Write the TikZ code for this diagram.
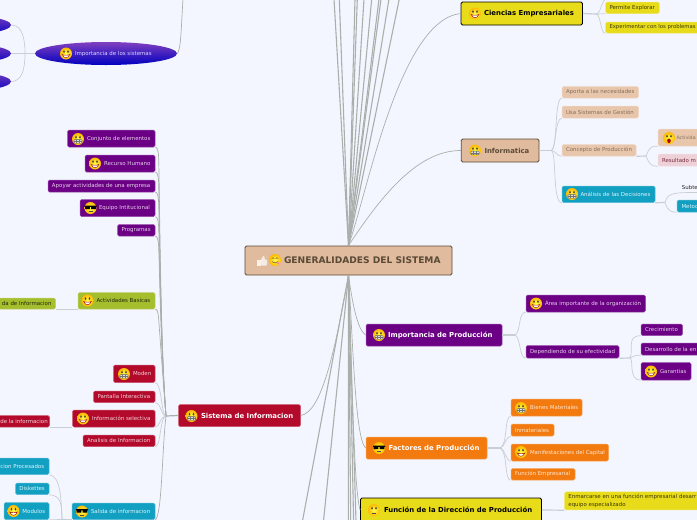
\documentclass[tikz,border=0pt]{standalone}
\usepackage{fontspec}
\setmainfont{DejaVu Sans}
\usetikzlibrary{shapes.geometric}
\definecolor{bgc}{HTML}{F3F6FF}
\definecolor{trunkc}{HTML}{ABAFAB}
\definecolor{linkc}{HTML}{C9CDD4}
\definecolor{purp}{HTML}{6C0085}
\definecolor{redd}{HTML}{B30A2C}
\definecolor{teal2}{HTML}{12A0C2}
\definecolor{oliv}{HTML}{A5BE2E}
\definecolor{oran}{HTML}{F27A0E}
\definecolor{yell}{HTML}{E8DC1A}
\definecolor{tan1}{HTML}{E0BB9E}
\definecolor{tan2}{HTML}{E8C6AC}
\definecolor{rose}{HTML}{EED0D8}
\definecolor{brownt}{HTML}{5A4A36}
\tikzset{
  x=1pt,y=-1pt,
  base/.style={rectangle,rounded corners=1.5pt,line width=.5pt},
  small/.style={font=\fontsize{5.45}{6.5}\selectfont},
  big/.style={font=\fontsize{6.9}{9}\selectfont\bfseries},
  pu/.style={base,small,fill=purp,draw=purp!70!white,text=purp!18!white},
  re/.style={base,small,fill=redd,draw=redd!70!white,text=redd!18!white},
  te/.style={base,small,fill=teal2,draw=teal2!70!white,text=white!88!teal2},
  ol/.style={base,small,fill=oliv,draw=oliv!70!white,text=black!80!oliv},
  orr/.style={base,small,fill=oran,draw=oran!70!white,text=oran!18!white},
  ye/.style={base,small,fill=yell,draw=yell!70!white,text=black!75!yell},
  ta/.style={base,small,fill=tan2,draw=tan2!70!white,text=brownt!70!tan2},
  ro/.style={base,small,fill=rose,draw=rose!70!white,text=redd!50!black!80!rose},
  puB/.style={base,big,fill=purp,draw=purp!70!white,text=white},
  reB/.style={base,big,fill=redd,draw=redd!70!white,text=white},
  orB/.style={base,big,fill=oran,draw=oran!70!white,text=white},
  yeB/.style={base,big,fill=yell,draw=black,line width=.8pt,text=black},
  taB/.style={base,big,fill=tan1,draw=brownt,line width=.8pt,text=brownt},
  blu/.style={ellipse,small,top color=blue!55!purple!75!white,bottom color=blue!75!black,draw=none,text=white!85!blue},
  plain/.style={small,text=black!85!white},
  trk/.style={draw=trunkc,line width=1.1pt},
  trl/.style={draw=trunkc,line width=.7pt},
  lnk/.style={draw=linkc,line width=.7pt},
  lnb/.style={draw=linkc,line width=1.2pt},
}
\newcommand\bx[8]{%
  \pgfmathsetmacro\bw{#5-(#3)}\pgfmathsetmacro\bh{#6-#4}%
  \pgfmathsetmacro\cxx{((#3)+#5)/2}\pgfmathsetmacro\cyy{(#4+#6)/2}%
  \pgfmathsetmacro\off{#7-(#3)}%
  \node[#2,minimum width=\bw pt,minimum height=\bh pt,inner sep=0pt] (#1) at (\cxx,\cyy)
    {\makebox[\bw pt][l]{\hspace{\off pt}#8}};}
% an ellipse grows round its text box, so its text sits in a box of no width
\newcommand\ex[8]{%
  \pgfmathsetmacro\bw{#5-(#3)}\pgfmathsetmacro\bh{#6-#4}%
  \pgfmathsetmacro\cxx{((#3)+#5)/2}\pgfmathsetmacro\cyy{(#4+#6)/2}%
  \pgfmathsetmacro\off{#7-\cxx}%
  \node[#2,minimum width=\bw pt,minimum height=\bh pt,inner sep=0pt] (#1) at (\cxx,\cyy)
    {\makebox[0pt][l]{\hspace{\off pt}#8}};}
\newcommand\fbase[2]{\shade[inner color=yellow!70!white,outer color=orange!55!yellow] (#1,#2) circle[radius=6];}
\newcommand\feyes[2]{\fill[black!75] (#1-2,#2-1.8) ellipse[x radius=.8,y radius=1.5] (#1+2,#2-1.8) ellipse[x radius=.8,y radius=1.5];}
\newcommand\fsmile[2]{\fbase{#1}{#2}\feyes{#1}{#2}%
  \fill[white,draw=red!60!black,line width=.4pt] (#1-3.8,#2+1) .. controls (#1-2,#2+5.4) and (#1+2,#2+5.4) .. (#1+3.8,#2+1) .. controls (#1+2,#2+2) and (#1-2,#2+2) .. cycle;}
\newcommand\fgrin[2]{\fbase{#1}{#2}\feyes{#1}{#2}%
  \fill[white!75!gray,draw=black!65,line width=.4pt,rounded corners=1pt] (#1-4.2,#2+.6) rectangle (#1+4.2,#2+4.2);
  \draw[black!55,line width=.25pt] (#1-4.2,#2+2.4) -- (#1+4.2,#2+2.4) (#1-1.4,#2+.6) -- (#1-1.4,#2+4.2) (#1+1.4,#2+.6) -- (#1+1.4,#2+4.2);}
\newcommand\fcool[2]{\fbase{#1}{#2}%
  \fill[black] (#1-6,#2-2.4) rectangle (#1+6,#2-1.2) (#1-5.4,#2-2) rectangle (#1-.6,#2+1) (#1+.6,#2-2) rectangle (#1+5.4,#2+1);
  \draw[black!70,line width=.4pt] (#1-2,#2+3.4) .. controls (#1-.5,#2+4.2) and (#1+.5,#2+4.2) .. (#1+2,#2+3.4);}
\newcommand\fflat[2]{\fbase{#1}{#2}\feyes{#1}{#2}%
  \draw[black!70,line width=.6pt] (#1-2.4,#2+3.4) -- (#1+2.4,#2+3.4);}
\newcommand\fwow[2]{\fbase{#1}{#2}\feyes{#1}{#2}%
  \fill[red!70!black] (#1,#2+2.8) ellipse[x radius=1.8,y radius=2.3];}
\newcommand\ftong[2]{\fbase{#1}{#2}%
  \draw[black!70,line width=.45pt] (#1-3.2,#2-1.4) .. controls (#1-2.4,#2-2.6) and (#1-1.4,#2-2.6) .. (#1-.8,#2-1.4) (#1+.8,#2-1.4) .. controls (#1+1.4,#2-2.6) and (#1+2.4,#2-2.6) .. (#1+3.2,#2-1.4) (#1-3,#2+1.6) .. controls (#1-1,#2+3.4) and (#1+1,#2+3.4) .. (#1+3,#2+1.6);
  \fill[red!45!white] (#1+3,#2+3) circle[radius=1.7];}
\begin{document}
\begin{tikzpicture}
\useasboundingbox (0,0) rectangle (697,520);
\clip (0,0) rectangle (697,520);
\fill[bgc] (0,0) rectangle (697,520);
% centre
\bx{center}{taB,font=\fontsize{9.1}{11}\selectfont\bfseries}{245}{246}{452}{275}{284}{GENERALIDADES DEL SISTEMA}
% free ends
\foreach \i/\x in {1/334,2/339.3,3/355,4/357.3,5/364,6/371.7,7/379,8/381,9/389,10/399.3}{\coordinate (t\i) at (\x,-1);}
\foreach \i/\x in {1/302.5,2/323.5,3/348.3,4/350.7,5/353.6,6/356}{\coordinate (b\i) at (\x,521);}
\foreach \i in {1,...,10}{\draw[trk] (center.north) -- (t\i);}
\foreach \i in {1,...,6}{\draw[trk] (center.south) -- (b\i);}
% blue ellipses
\ex{imps}{blu}{35}{42}{177}{65}{75}{Importancia de los sistemas}
\ex{e1}{blu}{-131}{13.5}{11}{36.5}{-100}{}
\ex{e2}{blu}{-131}{42}{11}{65}{-100}{}
\ex{e3}{blu}{-131}{70}{11}{93}{-100}{}
\ex{e0}{ellipse,fill=black!50!yellow!60!white,draw=none}{-60}{-22}{12}{1.4}{-50}{}
\coordinate (topa) at (183,-1);
\coordinate (j0) at (24,53.5);
\draw[trl] (imps.east) .. controls (181,50) and (181,30) .. (topa);
\draw[lnb] (imps.west) -- (j0);
\draw[lnk] (e2.east) -- (j0);
\draw[lnk] (e1.east) .. controls (22,25) and (25,38) .. (25,53.5);
\draw[lnk] (e3.east) .. controls (22,81.5) and (25,69) .. (25,53.5);
% Sistema de Informacion
\bx{sis}{reB}{178.5}{404.5}{300.5}{426.5}{201}{Sistema de Informacion}
\draw[trl] (sis.east) .. controls (322,412) and (335,350) .. (center.south);
\coordinate (hub) at (166,416);
\draw[lnb,draw=trunkc] (sis.west) -- (hub);
\bx{a1}{pu}{67.5}{130}{155}{147}{87}{Conjunto de elementos}
\bx{a2}{pu}{85}{155}{155}{172}{104}{Recurso Humano}
\bx{a3}{pu}{48}{180}{155}{192}{52}{Apoyar actividades de una empresa}
\bx{a4}{pu}{80}{199.5}{155}{216.5}{99}{Equipo Intitucional}
\bx{a5}{pu}{117.5}{224.5}{155}{236}{121.5}{Programas}
\bx{a6}{ol}{78}{292.5}{155}{309}{96.5}{Actividades Basicas}
\bx{a7}{re}{113.5}{365}{155}{382.5}{133}{Moden}
\bx{a8}{re}{93.5}{391}{155}{402.5}{97.5}{Pantalla Interactiva}
\bx{a9}{re}{72.5}{410}{155}{427}{92}{Información selectiva}
\bx{a10}{re}{83}{435}{155}{446.5}{87}{Analisis de Informacion}
\bx{a11}{te}{72}{503}{155}{519.5}{91}{Salida de informacion}
\foreach \n/\c in {a1/147,a2/172,a3/192,a4/216.5,a5/236,a6/309}{
  \draw[trl] (hub) .. controls (160,340) and (159.5,\c+20) .. (158.5,\c+8) .. controls (158,\c+3) and (157,\c) .. (\n.south east);}
\draw[lnk] (hub) .. controls (161,416) and (162,382.5) .. (a7.south east);
\draw[lnk] (hub) .. controls (161,416) and (161,402.5) .. (a8.south east);
\draw[lnk] (hub) .. controls (160,416) and (160,427) .. (a9.south east);
\draw[lnk] (hub) .. controls (160,416) and (161,446.5) .. (a10.south east);
\draw[trl] (hub) .. controls (162,450) and (162,516) .. (a11.south east);
% left children
\bx{o1}{ol}{-40}{298}{55.5}{309}{2}{da de Informacion}
\draw[lnk] (a6.south west) -- (o1.south east);
\bx{r1}{re}{-40}{415.5}{49.5}{427}{0.3}{de la informacion}
\draw[lnk] (a9.south west) -- (r1.south east);
\bx{c1}{te}{-40}{458}{49}{474.5}{0.3}{cion Procesados}
\bx{c2}{te}{15.5}{483}{49}{494.5}{19.5}{Diskettes}
\bx{c3}{te}{4}{502.5}{49}{519.5}{22.5}{Modulos}
\coordinate (j1) at (62,519.5);
\draw[lnb] (a11.south west) -- (j1);
\draw[lnk] (j1) .. controls (61,500) and (61,476) .. (c1.south east);
\draw[lnk] (j1) .. controls (62,505) and (61,495) .. (c2.south east);
\draw[lnk] (j1) -- (c3.south east);
% Ciencias
\bx{cie}{yeB}{461}{2}{582.5}{25}{484}{Ciencias Empresariales}
\bx{ci1}{ye}{605.7}{2}{659.3}{13.5}{609.5}{Permite Explorar}
\bx{ci2}{ye,font=\fontsize{5.3}{6.5}\selectfont}{605.7}{22}{720}{33}{609.5}{Experimentar con los problemas}
\coordinate (jc) at (596,14);
\coordinate (topb) at (606,-1);
\draw[trl] (center.north) .. controls (368,190) and (400,20) .. (cie.west);
\draw[lnb] (cie.east) -- (jc);
\draw[lnk] (jc) .. controls (601,14) and (601,1) .. (topb);
\draw[lnk] (jc) -- (ci1.south west);
\draw[lnk] (jc) .. controls (601,14) and (600,33) .. (ci2.south west);
% Informatica
\bx{inf}{taB}{461.3}{139}{539}{162}{484.5}{Informatica}
\draw[trl] (center.north) .. controls (385,190) and (420,150.5) .. (inf.west);
\bx{in1}{ta}{562}{86.5}{638.5}{98}{566}{Aporta a las necesidades}
\bx{in2}{ta}{562}{106}{638.5}{118}{566}{Usa Sistemas de Gestión}
\bx{in3}{ta}{562}{144.5}{636}{156}{566}{Concepto de Producción}
\bx{in4}{te}{562}{186}{655}{202.5}{580.5}{Análisis de las Decisiones}
\coordinate (ji) at (551,150.5);
\draw[lnb] (inf.east) -- (ji);
\draw[lnk] (ji) .. controls (558,150.5) and (554,98) .. (in1.south west);
\draw[lnk] (ji) .. controls (556,150.5) and (555,118) .. (in2.south west);
\draw[lnk] (ji) .. controls (556,150.5) and (556,156) .. (in3.south west);
\draw[lnk] (ji) .. controls (557,150.5) and (552,202.5) .. (in4.south west);
\bx{ac}{ta,font=\fontsize{4.8}{6}\selectfont}{658}{129}{720}{146}{676.5}{Activida}
\bx{rs}{ro}{658}{154}{720}{166}{662}{Resultado m}
\coordinate (jr) at (646,156);
\draw[lnb] (in3.south east) -- (jr);
\draw[lnk] (jr) .. controls (650,146) and (652,146) .. (ac.south west);
\draw[lnk] (jr) .. controls (650,166) and (652,166) .. (rs.south west);
\node[plain,anchor=west,inner sep=0pt] (sub) at (681.7,187) {Subte};
\bx{me}{te}{677}{200}{720}{212}{681.5}{Metod}
\coordinate (js) at (665,202.5);
\coordinate (subs) at (697,192.5);
\draw[lnb] (in4.south east) -- (js);
\draw[lnk] (js) .. controls (668,193) and (672,192.5) .. (subs);
\draw[lnk] (js) .. controls (668,212) and (672,212) .. (me.south west);
% Importancia de Produccion
\bx{imp}{puB}{366}{324}{502}{346}{388}{Importancia de Producción}
\draw[trl] (center.south) .. controls (352,300) and (357,330) .. (imp.west);
\bx{p1}{pu}{526}{295}{645.5}{312}{545}{Área importante de la organización}
\bx{p2}{pu}{526}{345.5}{619}{358}{530}{Dependiendo de su efectividad}
\coordinate (jp) at (515,335);
\draw[lnb] (imp.east) -- (jp);
\draw[lnk] (jp) .. controls (521,332) and (518,312) .. (p1.south west);
\draw[lnk] (jp) .. controls (521,338) and (519,358) .. (p2.south west);
\bx{p3}{pu}{641}{324}{682.5}{335.5}{645}{Crecimiento}
\bx{p4}{pu}{641}{343}{720}{355}{645}{Desarrollo de la en}
\bx{p5}{pu}{641}{362.5}{691}{380}{660}{Garantias}
\coordinate (jq) at (630,358);
\draw[lnb] (p2.south east) -- (jq);
\draw[lnk] (jq) .. controls (634,350) and (626,335.5) .. (p3.south west);
\draw[lnk] (jq) .. controls (634,356) and (636,355) .. (p4.south west);
\draw[lnk] (jq) .. controls (634,360) and (628,380) .. (p5.south west);
% Factores
\bx{fac}{orB}{366}{437}{487}{459}{388.5}{Factores de Producción}
\draw[trl] (center.south) .. controls (353,340) and (355,440) .. (fac.west);
\bx{f1}{orr}{511}{399}{582}{416}{530}{Bienes Materiales}
\bx{f2}{orr}{511}{424}{554}{436}{515}{Inmateriales}
\bx{f3}{orr}{511}{444}{608.5}{461}{530}{Manifestaciones del Capital}
\bx{f4}{orr}{511}{468.5}{575}{480}{515}{Función Empresarial}
\coordinate (jf) at (500,448);
\draw[lnb] (fac.east) -- (jf);
\draw[lnk] (jf) .. controls (508,445) and (504,416) .. (f1.south west);
\draw[lnk] (jf) .. controls (505,447) and (506,436) .. (f2.south west);
\draw[lnk] (jf) .. controls (505,449) and (506,461) .. (f3.south west);
\draw[lnk] (jf) .. controls (508,452) and (504,480) .. (f4.south west);
% Funcion
\bx{fun}{yeB}{360.5}{498}{541.5}{530}{384}{\raisebox{8pt}{Función de la Dirección de Producción}}
\draw[trl] (center.south) .. controls (352,380) and (354,490) .. ([yshift=4pt]fun.west);
\node[base,small,fill=yell,draw=yell!70!white,text=black!75!yell,anchor=north west,inner sep=0pt,minimum width=160pt,minimum height=18pt,align=left] (en) at (564.3,491.7)
  {\hspace{3.7pt}\parbox{156pt}{\lineskiplimit=-5pt\baselineskip=7.4pt Enmarcarse en una función empresarial desarr\\equipo especializado}};
\draw[lnb] ([yshift=4pt]fun.east) -- (en.south west);
% icons
\fsmile{66}{53.5}
\fgrin{78}{139}
\fsmile{95}{163.5}
\fcool{90.5}{208}
\fsmile{87.5}{300.5}
\fgrin{124}{374}
\fsmile{83}{418.5}
\fcool{82}{511.5}
\fsmile{13.5}{511}
\fgrin{191.5}{416}
\fsmile{475}{13.5}
\fgrin{475}{150.5}
\fwow{669}{138}
\fgrin{572}{194}
\fgrin{379}{335}
\fsmile{536}{303.5}
\fsmile{651}{371.5}
\fcool{379}{448}
\fgrin{521}{408}
\fsmile{521}{452}
\fflat{374}{510}
\ftong{275}{260}
% thumb
\fill[white!80!tan1] (257,260) rectangle (261,265.5);
\fill[white!70!tan1,rounded corners=.8pt] (261,259.5) -- (263.5,255.5) -- (264.5,256.5) -- (264.5,259.5) -- (267,259.5) -- (267,265.5) -- (261,265.5) -- cycle;
\end{tikzpicture}
\end{document}
